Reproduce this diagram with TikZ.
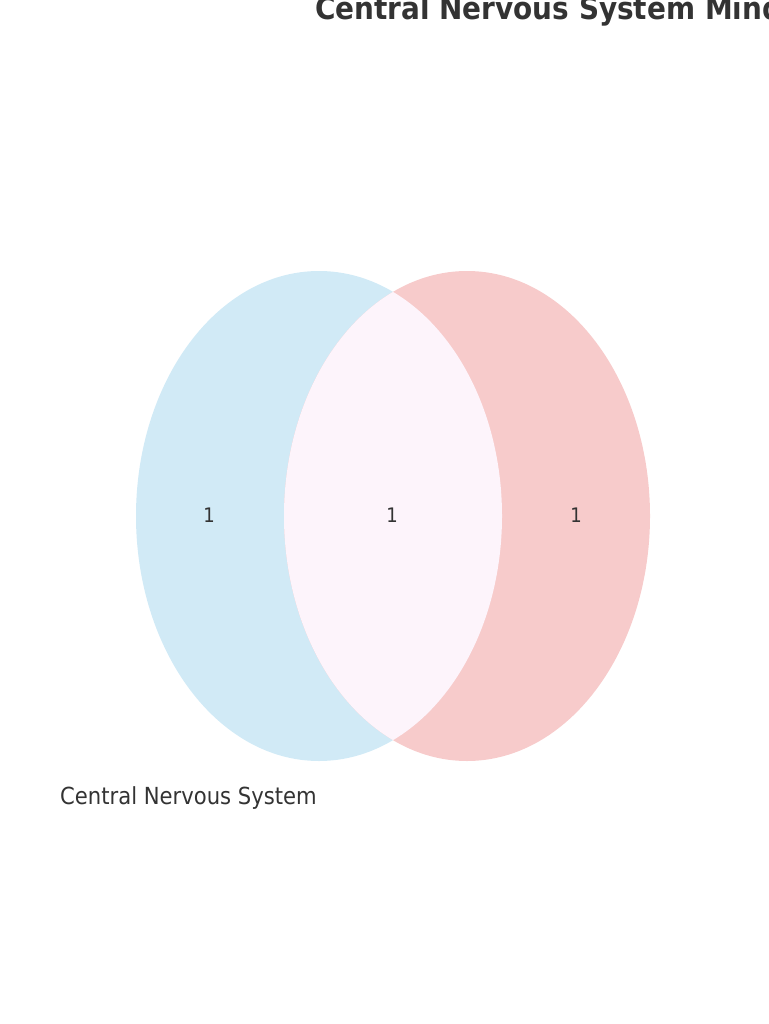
\documentclass[tikz,border=0pt]{standalone}
\usepackage{fontspec}
\setmainfont{DejaVu Sans Condensed}
\definecolor{cblue}{HTML}{D1EAF6}
\definecolor{cred}{HTML}{F7CBCB}
\definecolor{cmid}{HTML}{FDF4FB}
\definecolor{ctext}{HTML}{333333}
\begin{document}
\begin{tikzpicture}[x=1pt,y=-1pt,
  lbl/.style={text=ctext,font=\fontsize{20}{24}\selectfont}]
\useasboundingbox (0,0) rectangle (768,1024);
\clip (0,0) rectangle (768,1024);
\fill[cblue] (319,516) ellipse [x radius=183,y radius=245];
\fill[cred] (467,516) ellipse [x radius=183,y radius=245];
\begin{scope}
\clip (319,516) ellipse [x radius=183,y radius=245];
\fill[cmid] (467,516) ellipse [x radius=183,y radius=245];
\end{scope}
\node[lbl] (a) at (209,515) {1};
\node[lbl] (b) at (392,515) {1};
\node[lbl] (c) at (576,515) {1};
\node[text=ctext,font=\fontsize{23.5}{28}\selectfont,anchor=west,inner sep=0] (s) at (60,798) {Central Nervous System};
\node[text=ctext,font=\bfseries\fontsize{31}{36}\selectfont,anchor=base west,inner sep=0] (t) at (315,20) {Central Nervous System Mind Map};
\end{tikzpicture}
\end{document}
